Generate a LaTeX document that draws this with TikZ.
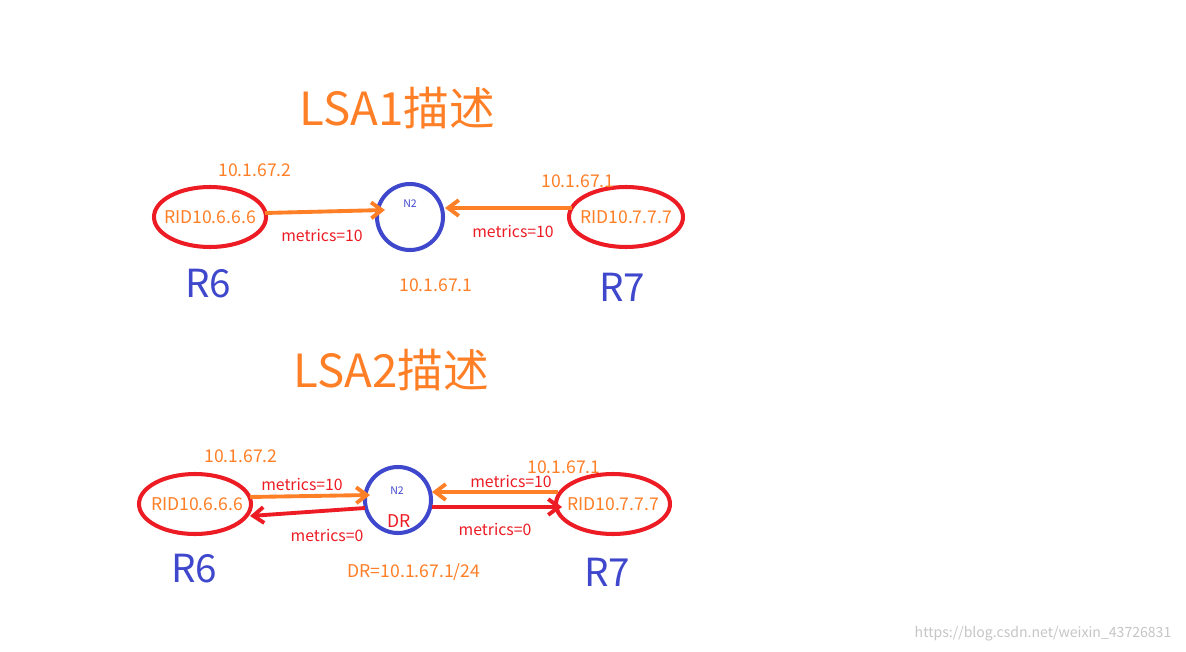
\documentclass[tikz,border=0pt]{standalone}
\usepackage{fontspec}
\setmainfont{Noto Sans CJK SC}
\usetikzlibrary{arrows.meta}
\definecolor{ora}{HTML}{FF7F27}
\definecolor{rd}{HTML}{ED1C24}
\definecolor{bl}{HTML}{3F48CC}
\begin{document}
\begin{tikzpicture}[x=0.02cm,y=-0.02cm,
  rnode/.style={draw=rd,line width=2.3pt,ellipse,minimum width=112\pgfkeysvalueof{/tikz/x},},
  lab/.style={font=\fontsize{10}{12}\selectfont,text=ora,inner sep=0},
  met/.style={font=\fontsize{9}{11}\selectfont,text=rd,inner sep=0},
  big/.style={font=\fontsize{22}{26}\selectfont,text=bl,inner sep=0},
  title/.style={font=\fontsize{26}{30}\selectfont,text=ora,inner sep=0},
  oarr/.style={draw=ora,line width=2.2pt,-{Straight Barb[length=6pt,width=9pt]}},
  rarr/.style={draw=rd,line width=2.2pt,-{Straight Barb[length=6pt,width=9pt]}}]
\useasboundingbox (0,0) rectangle (1186,652);
\fill[white] (0,0) rectangle (1186,652);
% top
\node[title] (t1) at (397,108) {LSA1描述};
\draw[rd,line width=2.3pt] (210,217) ellipse [x radius=56,y radius=30];
\node[lab] (r6a) at (210,217) {RID10.6.6.6};
\draw[bl,line width=2.3pt] (410,217) circle [radius=33];
\node[font=\fontsize{6}{7}\selectfont,text=bl,inner sep=0] (n2a) at (410,204) {N2};
\draw[rd,line width=2.3pt] (626,217) ellipse [x radius=57,y radius=30];
\node[lab] (r7a) at (626,217) {RID10.7.7.7};
\coordinate (a1) at (265,213); \coordinate (a2) at (385,210);
\coordinate (a3) at (572,208); \coordinate (a4) at (445,208);
\draw[oarr] (a1) -- (a2);
\draw[oarr] (a3) -- (a4);
\node[lab] (l1) at (255,170) {10.1.67.2};
\node[lab] (l2) at (578,181) {10.1.67.1};
\node[met] (m1) at (322,235) {metrics=10};
\node[met] (m2) at (513,231) {metrics=10};
\node[lab] (l3) at (436,285) {10.1.67.1};
\node[big] (b1) at (208,284) {R6};
\node[big] (b2) at (622,287) {R7};
% bottom
\node[title] (t2) at (391,370) {LSA2描述};
\draw[rd,line width=2.3pt] (195,504) ellipse [x radius=56,y radius=30];
\node[lab] (r6b) at (197,504) {RID10.6.6.6};
\draw[bl,line width=2.3pt] (398,500) circle [radius=33];
\node[font=\fontsize{6}{7}\selectfont,text=bl,inner sep=0] (n2b) at (397,491) {N2};
\node[met,font=\fontsize{10}{12}\selectfont] (dr) at (399,521) {DR};
\draw[rd,line width=2.3pt] (613,504) ellipse [x radius=57,y radius=30];
\node[lab] (r7b) at (613,504) {RID10.7.7.7};
\coordinate (b1s) at (250,497); \coordinate (b1e) at (370,495);
\coordinate (b2s) at (558,492); \coordinate (b2e) at (432,492);
\coordinate (c1s) at (365,508); \coordinate (c1e) at (250,516);
\coordinate (c2s) at (432,507); \coordinate (c2e) at (562,507);
\draw[oarr] (b1s) -- (b1e);
\draw[oarr] (b2s) -- (b2e);
\draw[rarr] (c1s) -- (c1e);
\draw[rarr] (c2s) -- (c2e);
\node[lab] (l4) at (241,456) {10.1.67.2};
\node[met] (m3) at (302,484) {metrics=10};
\node[met] (m4) at (511,481) {metrics=10};
\node[lab] (l5) at (564,467) {10.1.67.1};
\node[met] (m5) at (327,535) {metrics=0};
\node[met] (m6) at (495,529) {metrics=0};
\node[lab] (l6) at (414,572) {DR=10.1.67.1/24};
\node[big] (b3) at (194,569) {R6};
\node[big] (b4) at (607,572) {R7};
\node[font=\fontsize{8}{10}\selectfont,text=gray!45,inner sep=0] (wm) at (1043,634) {https://blog.csdn.net/weixin\_43726831};
\end{tikzpicture}
\end{document}
